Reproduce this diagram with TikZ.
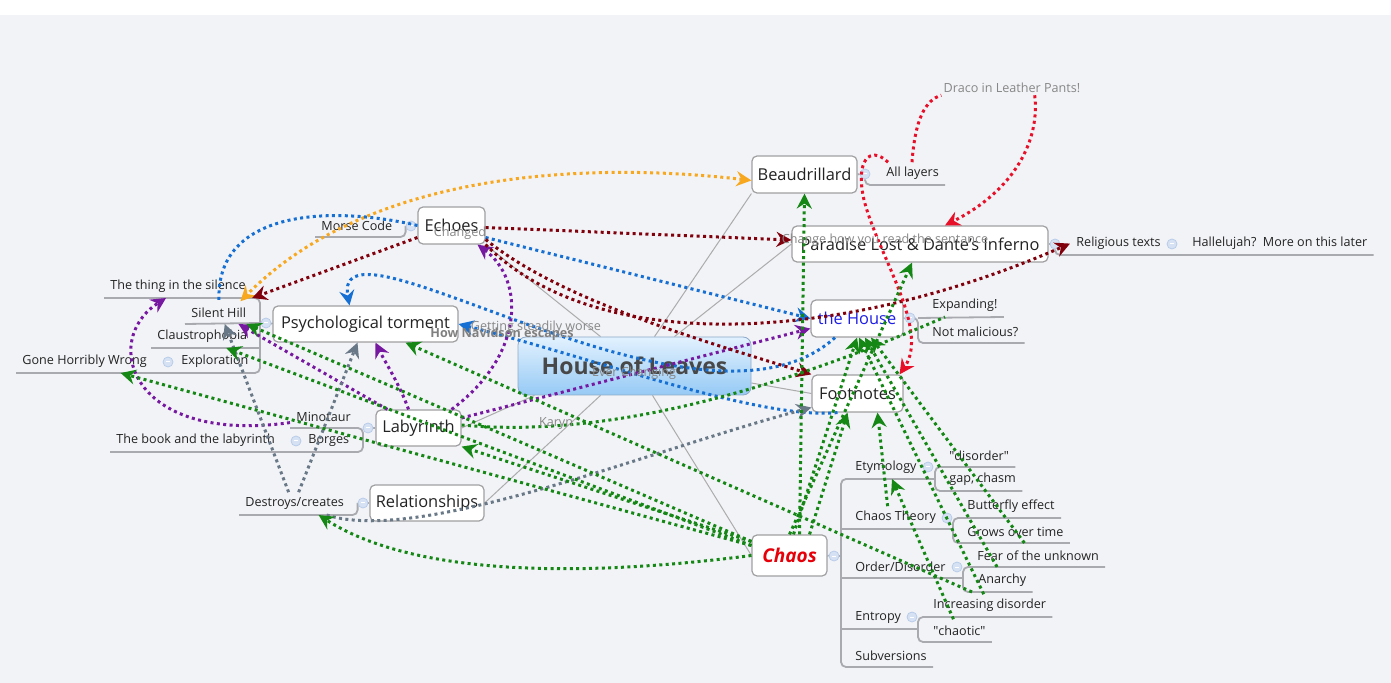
\documentclass[tikz,border=0pt]{standalone}
\usepackage{fontspec}
\setmainfont{Open Sans}
\usetikzlibrary{arrows.meta,backgrounds}
\definecolor{paper}{RGB}{242,243,247}
\definecolor{boxline}{RGB}{160,160,162}
\definecolor{branchgray}{RGB}{168,170,176}
\definecolor{txtcol}{RGB}{35,35,35}
\definecolor{lblcol}{RGB}{135,135,135}
\definecolor{hubtop}{RGB}{226,241,254}
\definecolor{hubbot}{RGB}{150,202,245}
\definecolor{hubline}{RGB}{140,170,200}
\definecolor{hubtext}{RGB}{72,72,72}
\definecolor{houseblue}{RGB}{30,30,230}
\definecolor{chaosred}{RGB}{230,0,10}
\definecolor{knobfill}{RGB}{214,226,244}
\definecolor{knobline}{RGB}{184,204,232}
\definecolor{relorange}{RGB}{247,168,30}
\definecolor{relblue}{RGB}{22,112,212}
\definecolor{relpurple}{RGB}{118,25,160}
\definecolor{relmaroon}{RGB}{128,0,12}
\definecolor{relred}{RGB}{232,16,40}
\definecolor{relgreen}{RGB}{20,135,20}
\definecolor{relgray}{RGB}{105,120,135}
\newcommand{\subsize}{\fontsize{6.3pt}{7.5pt}\selectfont}
\newcommand{\topicsize}{\fontsize{8.2pt}{9.5pt}\selectfont}
\newcommand{\qq}[1]{\textquotedbl#1\textquotedbl}
\tikzset{
  hub/.style={draw=hubline, rounded corners=4pt, top color=hubtop, bottom color=hubbot,
    minimum width=116.5pt, minimum height=29pt, inner sep=0pt,
    font=\fontsize{11.5pt}{13pt}\selectfont\bfseries, text=hubtext},
  topic/.style={draw=boxline, fill=white, rounded corners=2.5pt, line width=0.6pt,
    inner sep=0pt, font=\topicsize, text=txtcol},
  sub/.style={font=\subsize, text=txtcol, inner xsep=3pt, inner ysep=0pt, minimum height=11pt},
  knob/.style={circle, draw=knobline, fill=knobfill, minimum size=5pt, inner sep=0pt,
    path picture={\draw[white, line width=0.5pt]
      ([xshift=-1.2pt]path picture bounding box.center) -- ([xshift=1.2pt]path picture bounding box.center);}},
  branch/.style={draw=branchgray, line width=0.9pt, rounded corners=2.5pt},
  spoke/.style={draw=gray!65, line width=0.5pt},
  rel/.style={line width=1.5pt, dash pattern=on 1.5pt off 1.7pt},
  relhead/.style={-{Stealth[length=7.5pt,width=7.5pt,inset=2.5pt]}},
  relboth/.style={{Stealth[length=7.5pt,width=7.5pt,inset=2.5pt]}-{Stealth[length=7.5pt,width=7.5pt,inset=2.5pt]}},
  lbl/.style={font=\subsize, text=lblcol, inner sep=1pt}
}

\begin{document}
\begin{tikzpicture}[x=0.5pt, y=-0.5pt]
  \useasboundingbox (0,0) rectangle (1391,683);
  % central topic
  \node[hub] (hol) at (634.5,366) {House of Leaves};
  % main topics
  \foreach \nm/\x/\y/\w/\h/\txt in {%
      echoes/451.5/225.5/33.5/18.5/Echoes,
      psych/365.5/324/92.5/18/Psychological torment,
      labyrinth/418.5/428/42.5/18/Labyrinth,
      relat/427/503/57/18/Relationships,
      beau/804.5/174.5/52.5/18.5/Beaudrillard,
      paradise/920/244/128/18/{Paradise Lost \& Dante's Inferno},
      footn/857.5/393.5/45.5/18.5/Footnotes}
    \node[topic, minimum width=\w pt, minimum height=\h pt] (\nm) at (\x,\y) {\txt};
  \node[topic, minimum width=46pt, minimum height=18.5pt, text=houseblue] (house) at (857,318.5) {the House};
  \node[topic, minimum width=37.5pt, minimum height=20.5pt, text=chaosred,
    font=\fontsize{9.5pt}{11pt}\selectfont\bfseries\itshape] (chaos) at (789.5,555.5) {Chaos};
  % subtopics, placed by the left end of their underline
  \foreach \nm/\x/\y/\txt in {%
      morse/315/237/Morse Code,
      thing/104/298/The thing in the silence,
      silent/185/324/Silent Hill,
      claus/151/348/Claustrophobia,
      explor/175/373/Exploration,
      gone/16/373/Gone Horribly Wrong,
      mino/290/428/Minotaur,
      borges/302/452/Borges,
      book/110/452/The book and the labyrinth,
      destr/239/515/{Destroys/creates},
      alll/880/185/All layers,
      relig/1070/255/Religious texts,
      halle/1186/255/{Hallelujah?\ \ More on this later},
      expa/926/317/Expanding!,
      notm/926/343/Not malicious?,
      ety/849/479/Etymology,
      chth/849/529/Chaos Theory,
      orde/849/578/{Order/Disorder},
      entr/849/629/Entropy,
      subv/849/667/Subversions,
      diso/943/467/\qq{disorder},
      gap/943/491/{gap, chasm},
      butt/961/518/Butterfly effect,
      grow/961/543/Grows over time,
      fear/971/567/Fear of the unknown,
      anar/972/592/Anarchy,
      incr/927/617/Increasing disorder,
      chao/927/642/\qq{chaotic}}
    \node[sub, anchor=south west] (\nm) at (\x,\y) {\txt};
  % collapse knobs
  \foreach \nm/\x/\y in {cEch/411/226, cPsy/266/323, cExp/168/362, cLab/368/428,
      cBor/296/441, cRel/363/503, cBea/865/174, cPar/1055/244, cRelg/1172/244,
      cHou/910/318, cCha/834/556, cEty/928/467, cCht/947/518, cOrd/957/567, cEnt/912/617}
    \node[knob] (\nm) at (\x,\y) {};
  % bracket corners
  \coordinate (bPsy) at (260,373);
  \coordinate (bLab) at (363,452);
  \coordinate (bHou) at (918,318);
  \coordinate (bCha) at (841,667);
  \coordinate (bEty) at (935,491);
  \coordinate (bCht) at (953,543);
  \coordinate (bOrd) at (963,592);
  \coordinate (bEnt) at (918,642);

  \begin{pgfonlayer}{background}
    \fill[white] (0,0) rectangle (1391,683);
    \fill[paper] (0,15) rectangle (1391,683);
    % spokes from the centre
    \draw[spoke] ([xshift=-17pt]hol.north) -- (echoes.south east);
    \draw[spoke] ([xshift=10pt]hol.north) -- (beau.south west);
    \draw[spoke] ([xshift=20pt]hol.north) -- (paradise.west);
    \draw[spoke] ([yshift=-8.5pt]hol.east) -- (footn.west);
    \draw[spoke] ([xshift=9pt]hol.south) -- (chaos.west);
    \draw[spoke] ([xshift=-50pt]hol.south) -- (labyrinth.east);
    \draw[spoke] ([xshift=-17pt]hol.south) -- (relat.east);
    % branches
    \draw[branch] (echoes.west) -- (cEch.east);
    \draw[branch] (morse.south west) -| (cEch.west);
    \draw[branch] (psych.west) -- (cPsy.east);
    \draw[branch] (thing.south west) -| (bPsy) -- (gone.south west);
    \draw[branch] (silent.south west) -- (cPsy.west);
    \draw[branch] (claus.south west) -- (claus.south west -| bPsy);
    \draw[branch] (labyrinth.west) -- (cLab.east);
    \draw[branch] (mino.south west) -| (bLab) -- (book.south west);
    \draw[branch] (relat.west) -- (cRel.east);
    \draw[branch] (destr.south west) -| (cRel.west);
    \draw[branch] (beau.east) -- (cBea.west);
    \draw[branch] (cBea.south) |- (alll.south east);
    \draw[branch] (paradise.east) -- (cPar.west);
    \draw[branch] (cPar.south) |- (halle.south east);
    \draw[branch] (house.east) -- (cHou.west);
    \draw[branch] (cHou.east) -- (bHou) |- (notm.south east);
    \draw[branch] (bHou) -- (expa.south east);
    \draw[branch] (chaos.east) -- (cCha.west);
    \draw[branch] (cCha.east) -- (cCha.east -| bCha);
    \draw[branch] (ety.south -| bEty) -| (bCha) -- (subv.south east);
    \foreach \a/\b in {chth/bCht, orde/bOrd, entr/bEnt}
      \draw[branch] (\a.south -| bCha) -- (\a.south -| \b);
    \draw[branch] (diso.south east) -| (bEty) -- (gap.south east);
    \draw[branch] (butt.south east) -| (bCht) -- (grow.south east);
    \draw[branch] (fear.south east) -| (bOrd) -- (anar.south east);
    \draw[branch] (incr.south east) -| (bEnt) -- (chao.south east);
  \end{pgfonlayer}

  \node[lbl] (draco) at (1012,88) {Draco in Leather Pants!};
  % relationships
  \draw[rel, relorange, relboth] ([yshift=-3pt]beau.west) .. controls (620,165) and (380,160) .. ([xshift=-6pt]silent.north east);
  \draw[rel, relblue] (echoes.west) .. controls (330,205) and (215,210) .. ([xshift=17pt]silent.north west);
  \draw[rel, relblue, relhead] ([yshift=-6pt]echoes.east) -- (house.west);
  \draw[rel, relblue, relhead] ([xshift=-11pt]house.south) .. controls (700,460) and (330,200) .. ([xshift=-8pt]psych.north);
  \draw[rel, relblue, relhead] ([xshift=-10pt]footn.south) .. controls (760,420) and (600,360) .. (psych.east);
  \draw[rel, relpurple, relhead] ([xshift=-5pt]labyrinth.north east) .. controls (525,355) and (525,280) .. ([xshift=13pt]echoes.south);
  \draw[rel, relpurple, relhead] ([xshift=-5pt]labyrinth.north) .. controls (400,385) and (385,362) .. ([xshift=5pt]psych.south);
  \draw[rel, relpurple, relhead] ([xshift=6pt]labyrinth.north west) -- ([xshift=-7pt]silent.south east);
  \draw[rel, relpurple, relhead] ([yshift=-3pt]mino.west) .. controls (130,445) and (100,340) .. ([xshift=-6pt]thing.south);
  \draw[rel, relpurple, relhead] ([yshift=5pt]labyrinth.east) -- ([yshift=-5pt]house.west);
  \draw[rel, relmaroon, relhead] ([yshift=-6pt]echoes.west) -- (thing.south east);
  \draw[rel, relmaroon, relhead] ([yshift=-1pt]echoes.east) -- ([yshift=2pt]paradise.west);
  \draw[rel, relmaroon, relhead] ([yshift=-7pt]echoes.east) .. controls (560,300) and (700,340) .. (footn.north west);
  \draw[rel, relmaroon, relhead] (echoes.south east) .. controls (600,360) and (850,340) .. (relig.west);
  \draw[rel, relred] ([xshift=16pt]alll.north west) .. controls (915,120) and (925,100) .. (draco.south west);
  \draw[rel, relred, relhead] ([xshift=-24pt]draco.south east) .. controls (1040,140) and (1015,190) .. ([xshift=12.5pt]paradise.north);
  \draw[rel, relred, relhead] ([xshift=4pt]alll.north west) .. controls (870,145) and (855,160) .. (864,200)
    .. controls (878,255) and (930,330) .. ([xshift=21pt]footn.north);
  \draw[rel, relgray, relhead] ([xshift=-3pt]destr.north) -- ([xshift=3pt]silent.south);
  \draw[rel, relgray, relhead] ([xshift=2pt]destr.north) -- ([xshift=-4pt]psych.south);
  \draw[rel, relgray, relhead] ([xshift=16pt]destr.south) .. controls (420,545) and (650,450) .. ([yshift=-7pt]footn.west);
  \draw[rel, relgreen, relhead] (chaos.west) .. controls (600,575) and (420,580) .. ([xshift=12pt]destr.south);
  \draw[rel, relgreen, relhead] ([yshift=7pt]chaos.west) -- (labyrinth.south east);
  \draw[rel, relgreen, relhead] (anar.south west) -- ([xshift=20pt]psych.south);
  \draw[rel, relgreen, relhead] ([yshift=7pt]chaos.west) -- ([xshift=-3pt]silent.south east);
  \draw[rel, relgreen, relhead] ([yshift=5pt]chaos.west) -- ([xshift=12pt]claus.south);
  \draw[rel, relgreen, relhead] ([yshift=5pt]chaos.west) -- ([xshift=18pt]gone.south);
  \draw[rel, relgreen, relhead] ([xshift=5pt]chaos.north) -- (beau.south);
  \draw[rel, relgreen, relhead] ([xshift=10pt]chaos.north) -- ([xshift=-5pt]footn.south);
  \draw[rel, relgreen, relhead] (chaos.north) -- ([xshift=-4pt]paradise.south);
  \draw[rel, relgreen, relhead] ([xshift=2pt]chaos.north) -- (house.south);
  \draw[rel, relgreen, relhead] ([xshift=-4pt]chth.north) -- ([xshift=10pt]footn.south);
  \draw[rel, relgreen, relhead] ([xshift=-3pt]chao.north) -- ([xshift=3pt]ety.south);
  \draw[rel, relgreen, relhead] ([xshift=4.5pt]grow.south) -- ([xshift=7pt]house.south);
  \draw[rel, relgreen, relhead] ([xshift=-20.5pt]fear.south) -- ([xshift=4pt]house.south);
  \draw[rel, relgreen, relhead] ([xshift=-3pt]incr.north) -- ([xshift=1pt]house.south);
  \draw[rel, relgreen] ([yshift=1.5pt]labyrinth.east) .. controls (620,440) and (800,380) .. ([xshift=9.5pt]expa.south west);
  % relationship labels
  \node[lbl] (lChanged) at (460,233) {Changed};
  \node[lbl] (lWorse) at (536,327) {Getting steadily worse};
  \node[lbl, font=\subsize\bfseries, text=gray] (lEscape) at (502,334) {How Navidson escapes};
  \node[lbl] (lEver) at (634,373) {Ever Changing};
  \node[lbl] (lKaryn) at (556,424) {Karyn};
  \node[lbl] (lSentence) at (885,240) {Change how you read the sentance};
\end{tikzpicture}
\end{document}
